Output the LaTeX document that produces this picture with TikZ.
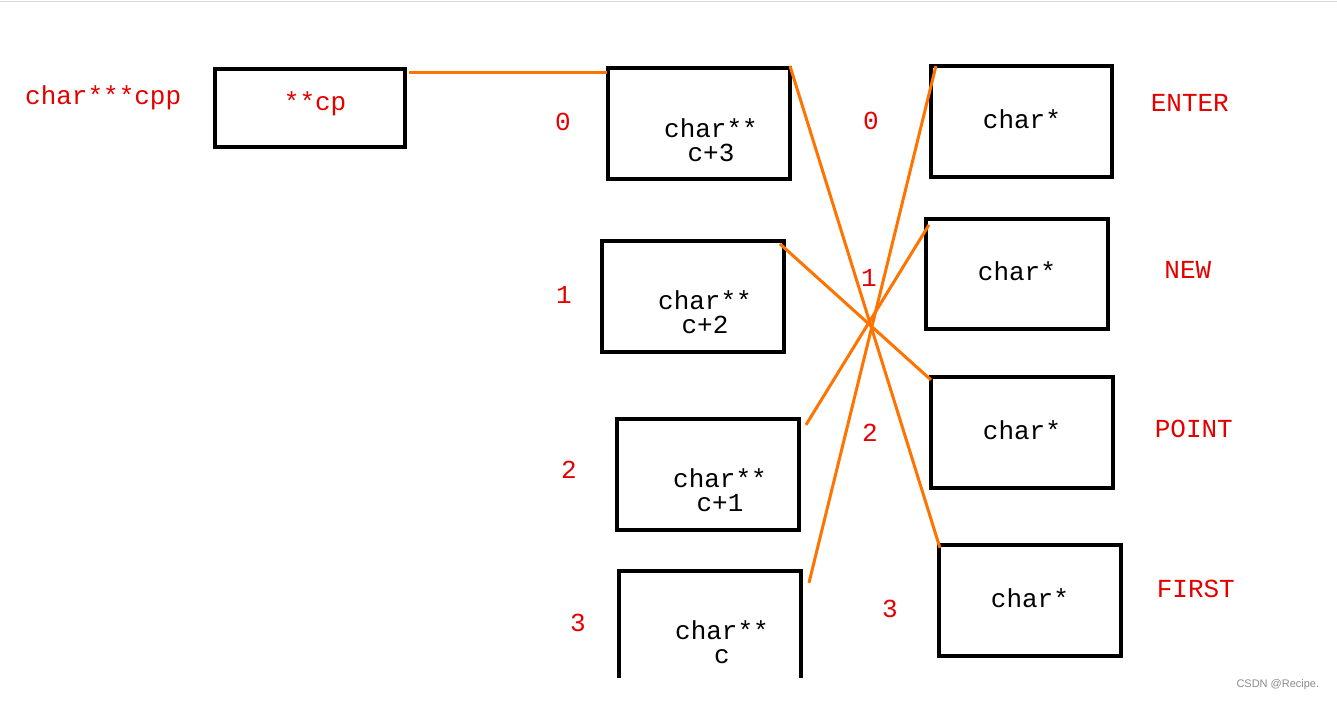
\documentclass[tikz,border=0pt]{standalone}
\usepackage{fontspec}
\setmainfont{Liberation Mono}
\newfontfamily\wm{Liberation Sans}
\begin{document}
\begin{tikzpicture}[x=1pt,y=-1pt,
 box/.style={draw=black,line width=3.5pt},
 ol/.style={draw=orange!90!red,line width=3pt},
 rt/.style={text=red!90!black,font=\fontsize{26}{28}\selectfont,inner sep=0},
 bt/.style={text=black,font=\fontsize{26}{28}\selectfont,inner sep=0,align=center}]
\path[fill=white] (0,0) rectangle (1337,701);
\draw[black!15] (0,1)--(1337,1);
\draw[box] (215,69) rectangle (405,147);
\foreach \n/\a/\b/\c/\d in {b3/608/68/790/179,b2/602/241/784/352,b1/617/419/799/530,r0/931/66/1112/177,r1/926/219/1108/329,r2/931/377/1113/488,r3/939/545/1121/656}
 \draw[box] (\a,\b) rectangle (\c,\d);
\draw[box] (619,678)--(619,571)--(801,571)--(801,678);
\coordinate (p1) at (409,73); \coordinate (p2) at (607,73);
\draw[ol] (p1)--(p2);
\coordinate (a1) at (790,66); \coordinate (a2) at (940,548);
\coordinate (b1) at (780,244); \coordinate (b2) at (931,380);
\coordinate (c1) at (806,425); \coordinate (c2) at (929,225);
\coordinate (d1) at (809,583); \coordinate (d2) at (936,66);
\draw[ol] (a1)--(a2); \draw[ol] (b1)--(b2); \draw[ol] (c1)--(c2); \draw[ol] (d1)--(d2);
\node[rt] (t0) at (103,98) {char***cpp};
\node[rt] (t1) at (315,104) {**cp};
\node[bt] (n3) at (711,140) {char**\\[-4pt]c+3};
\node[bt] (n2) at (705,312) {char**\\[-4pt]c+2};
\node[bt] (n1) at (720,490) {char**\\[-4pt]c+1};
\node[bt] (n0) at (722,642) {char**\\[-4pt]c};
\node[bt] (s0) at (1022,119) {char*};
\node[bt] (s1) at (1017,271) {char*};
\node[bt] (s2) at (1022,430) {char*};
\node[bt] (s3) at (1030,598) {char*};
\node[rt] (l0) at (563,122) {0};
\node[rt] (l1) at (564,295) {1};
\node[rt] (l2) at (569,470) {2};
\node[rt] (l3) at (578,623) {3};
\node[rt] (m0) at (871,121) {0};
\node[rt] (m1) at (869,278) {1};
\node[rt] (m2) at (870,433) {2};
\node[rt] (m3) at (890,609) {3};
\node[rt] (e0) at (1190,103) {ENTER};
\node[rt] (e1) at (1188,270) {NEW};
\node[rt] (e2) at (1194,429) {POINT};
\node[rt] (e3) at (1196,589) {FIRST};
\node[text=black!45,font=\wm\fontsize{11}{12}\selectfont,inner sep=0] (w) at (1278,685) {CSDN @Recipe.};
\end{tikzpicture}
\end{document}
